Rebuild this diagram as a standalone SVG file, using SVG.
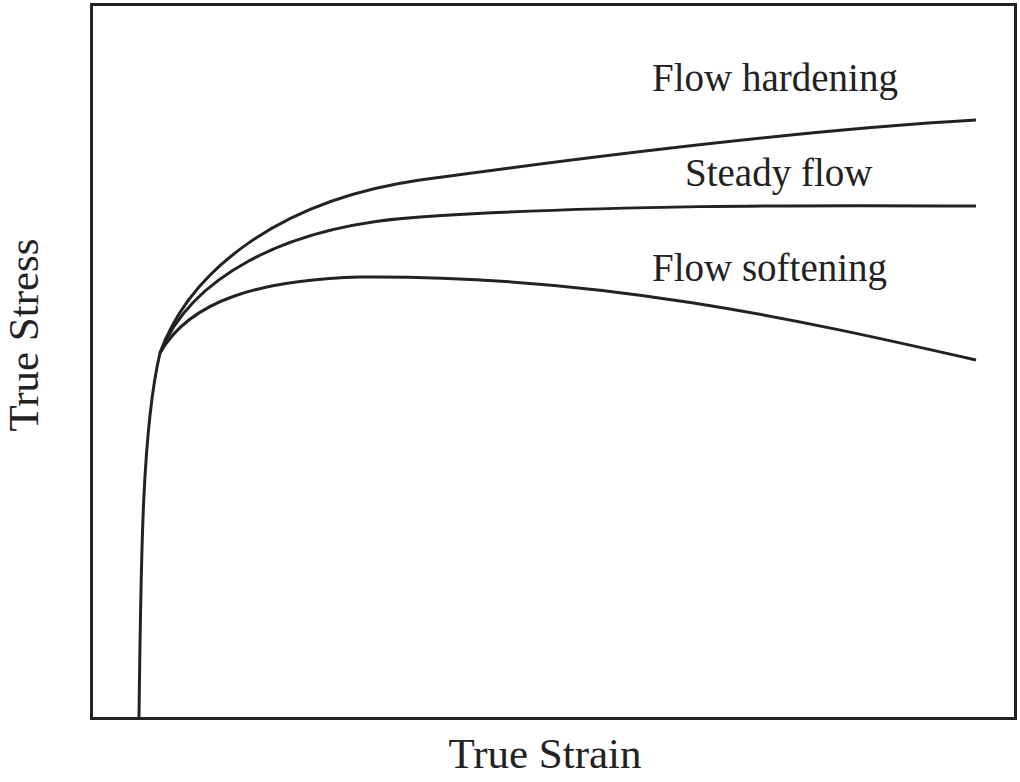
<svg xmlns="http://www.w3.org/2000/svg" width="1020" height="782" viewBox="0 0 1020 782">
<style>
.c{fill:none;stroke:#222;stroke-width:3}
.t{font-family:"Liberation Serif",serif;font-size:39px;fill:#222}
.a{font-family:"Liberation Serif",serif;font-size:43px;fill:#222}
</style>
<rect x="0" y="0" width="1020" height="782" fill="#fff"/>
<rect x="91.5" y="4.5" width="924" height="714" fill="none" stroke="#222" stroke-width="3"/>
<g id="curves">
<path class="c" d="M139,718 C141,560 142,430 160,353 C190,270 280,200 420,180 C580,158 800,130 976,120"/>
<path class="c" d="M160,353 C190,280 280,226 420,217 C600,205 800,205 976,206"/>
<path class="c" d="M160,353 C190,300 260,280 360,277 C600,275 800,320 976,360"/>
</g>
<g id="labels">
<text class="t" x="652" y="91">Flow hardening</text>
<text class="t" x="685" y="186">Steady flow</text>
<text class="t" x="652" y="281">Flow softening</text>
<text class="a" x="545" y="768" text-anchor="middle">True Strain</text>
<text class="a" transform="translate(38,335) rotate(-90)" text-anchor="middle">True Stress</text>
</g>
</svg>
